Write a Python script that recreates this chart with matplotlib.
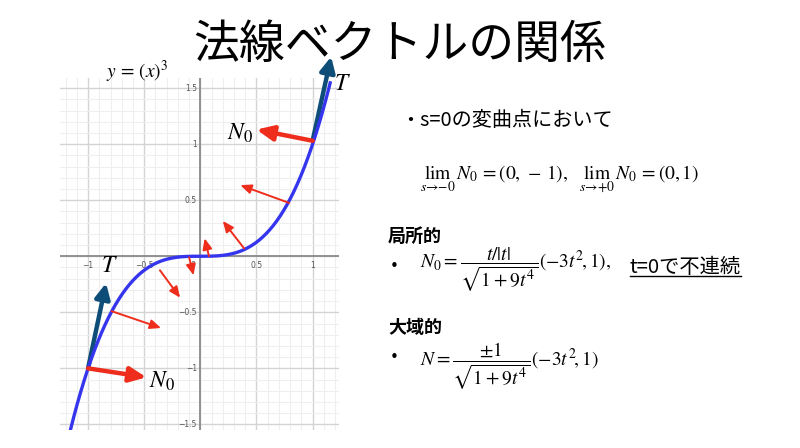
import matplotlib
matplotlib.use("Agg")
import matplotlib.pyplot as plt
from matplotlib.patches import FancyArrowPatch
from matplotlib.lines import Line2D
from matplotlib.ticker import MultipleLocator
import numpy as np

plt.rcParams['font.family'] = ['Noto Sans CJK JP', 'DejaVu Sans']
plt.rcParams['mathtext.fontset'] = 'stix'

W, H = 800, 448

# curve y = x^3 (the function shown in the chart), x range
curve_x_start, curve_x_end = -1.16, 1.16

# small normal vectors along the curve
small_starts = [(-0.79, -0.49), (-0.36, -0.125), (-0.10, -0.01), (0.077, 0.0), (0.39, 0.07), (0.79, 0.476)]
small_ends = [(-0.35, -0.64), (-0.18, -0.37), (-0.06, -0.17), (0.038, 0.16), (0.20, 0.315), (0.356, 0.634)]

# N0 and T vectors at t = -1 and t = 1
n0_starts = [(-1.0, -1.0), (1.0, 1.03)]
n0_ends = [(-0.48, -1.08), (0.50, 1.13)]
t_starts = [(-1.0, -1.0), (1.0, 1.03)]
t_ends = [(-0.84, -0.24), (1.165, 1.78)]

x_tick_vals = [-1, -0.5, 0, 0.5, 1]
x_tick_labels = ['\u22121', '\u22120.5', '0', '0.5', '1']
y_tick_vals = [1.5, 1, 0.5, -0.5, -1, -1.5]
y_tick_labels = ['1.5', '1', '0.5', '\u22120.5', '\u22121', '\u22121.5']

RED = '#ee2d1c'
BLUE = '#3535ee'
DARK = '#0d4d78'


def fx(px):
    return px / W


def fy(py):
    return 1 - py / H


fig = plt.figure(figsize=(8, 4.48), dpi=100)
fig.patch.set_facecolor('white')

ax = fig.add_axes([fx(60), fy(430), (339 - 60) / W, (430 - 78) / H])
ax.set_xlim(-1.25, 1.235)
ax.set_ylim(-1.55, 1.59)
ax.xaxis.set_major_locator(MultipleLocator(0.5))
ax.yaxis.set_major_locator(MultipleLocator(0.5))
ax.xaxis.set_minor_locator(MultipleLocator(0.1))
ax.yaxis.set_minor_locator(MultipleLocator(0.1))
ax.grid(which='major', color='#d4d4d4', lw=1.0)
ax.grid(which='minor', color='#efefef', lw=0.8)
ax.tick_params(which='both', length=0, labelbottom=False, labelleft=False)
for s in ax.spines.values():
    s.set_visible(False)
ax.set_axisbelow(True)
ax.axhline(0, color='#8a8a8a', lw=1.3, zorder=1)
ax.axvline(0, color='#8a8a8a', lw=1.3, zorder=1)

for v, lab in zip(x_tick_vals, x_tick_labels):
    dx = -5 if v == 0 else 0
    ax.annotate(lab, (v, 0), xytext=(dx, -3.5), textcoords='offset points',
                ha='center', va='top', fontsize=5.5, color='#555555', family='DejaVu Sans')
for v, lab in zip(y_tick_vals, y_tick_labels):
    ax.annotate(lab, (0, v), xytext=(-2.5, 0), textcoords='offset points',
                ha='right', va='center', fontsize=5.5, color='#555555', family='DejaVu Sans')

# T vectors (under the curve)
for s, e in zip(t_starts, t_ends):
    ax.add_patch(FancyArrowPatch(s, e, arrowstyle='-|>,head_length=9,head_width=4.5',
                                 mutation_scale=1, lw=3.2, color=DARK, shrinkA=0, shrinkB=0,
                                 clip_on=False, zorder=3))

xs = np.linspace(curve_x_start, curve_x_end, 300)
ax.plot(xs, xs ** 3, color=BLUE, lw=2.4, zorder=4, solid_capstyle='butt')

for s, e in zip(small_starts, small_ends):
    ax.add_patch(FancyArrowPatch(s, e, arrowstyle='-|>,head_length=6.5,head_width=2.8',
                                 mutation_scale=1, lw=1.4, color=RED, shrinkA=0, shrinkB=0,
                                 zorder=5))
for s, e in zip(n0_starts, n0_ends):
    ax.add_patch(FancyArrowPatch(s, e, arrowstyle='-|>,head_length=10,head_width=4.5',
                                 mutation_scale=1, lw=3.2, color=RED, shrinkA=0, shrinkB=0,
                                 clip_on=False, zorder=5))

# labels on the plot
fig.text(fx(137), fy(72), r'$y\,=\,(x)^3$', fontsize=14, ha='center', va='center')
fig.text(fx(342), fy(83), r'$T$', fontsize=17, ha='center', va='center')
fig.text(fx(109), fy(266), r'$T$', fontsize=17, ha='center', va='center')
fig.text(fx(240), fy(133), r'$N_0$', fontsize=17, ha='center', va='center')
fig.text(fx(162), fy(381), r'$N_0$', fontsize=17, ha='center', va='center')

# title
fig.text(fx(400), fy(45), '法線ベクトルの関係', fontsize=33, ha='center', va='center')

# right side text
fig.text(fx(400), fy(120), '・s=0の変曲点において', fontsize=14.5, ha='left', va='center')
fig.text(fx(420), fy(180),
         r'$\lim_{s\to -0}\, N_0 = (0,\, -\, 1),\ \ \lim_{s\to +0}\, N_0 = (0,1)$',
         fontsize=14, ha='left', va='center')

fig.text(fx(388), fy(236), '局所的', fontsize=13, fontweight='bold', ha='left', va='center')
fig.text(fx(394), fy(267), '・', fontsize=15, ha='center', va='center')
fig.text(fx(420), fy(270),
         r'$N_0 = \dfrac{t/|t|}{\sqrt{1+9t^4}}(-3t^2\!,1),$',
         fontsize=14, ha='left', va='center')
t_under = fig.text(fx(630), fy(267), 't=0で不連続', fontsize=14.6, ha='left', va='center')

fig.text(fx(388), fy(327), '大域的', fontsize=13, fontweight='bold', ha='left', va='center')
fig.text(fx(394), fy(358), '・', fontsize=15, ha='center', va='center')
fig.text(fx(420), fy(366),
         r'$N = \dfrac{\pm 1}{\sqrt{1+9t^4}}(-3t^2\!,1)$',
         fontsize=14, ha='left', va='center')

fig.canvas.draw()
bb = t_under.get_window_extent()
fig.add_artist(Line2D([bb.x0 / W, bb.x1 / W], [fy(276), fy(276)], color='black', lw=1.0,
                      transform=fig.transFigure))

fig.savefig('out.png', dpi=100)
